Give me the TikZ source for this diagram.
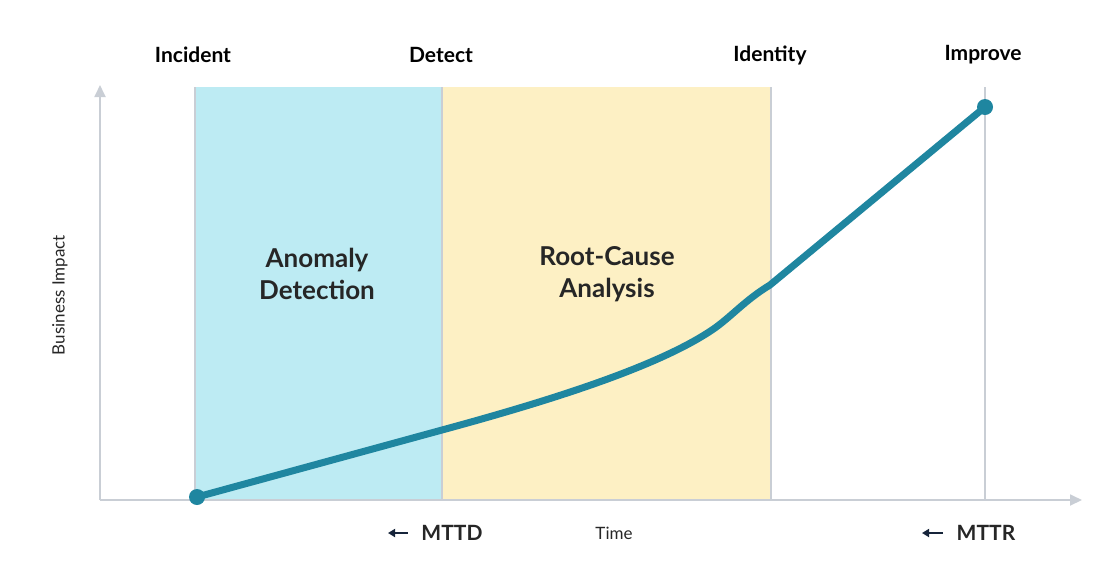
\documentclass[tikz,border=0pt]{standalone}
\usepackage{fontspec}
\setmainfont{Lato}
\usetikzlibrary{arrows.meta}
\definecolor{axisg}{HTML}{C9CED5}
\definecolor{blueb}{HTML}{BDEBF3}
\definecolor{yelb}{HTML}{FDF0C4}
\definecolor{teal}{HTML}{1F86A0}
\definecolor{navy}{HTML}{16243A}
\tikzset{
  axis/.style={axisg, line width=1.8pt, -{Triangle[length=12pt,width=11pt]}},
  vline/.style={axisg, line width=1.4pt},
  toplbl/.style={font=\bfseries\fontsize{21}{24}\selectfont, text=black},
  phase/.style={font=\bfseries\fontsize{26}{32}\selectfont, align=center, text=black!85},
  botlbl/.style={font=\bfseries\fontsize{21}{24}\selectfont, text=black!85},
  dot/.style={circle, fill=teal, inner sep=0pt, minimum size=16pt}
}
\begin{document}
\begin{tikzpicture}[x=1pt,y=-1pt]
\useasboundingbox (0,0) rectangle (1116,566);
\fill[blueb] (195,87) rectangle (442,500);
\fill[yelb] (442,87) rectangle (771,500);
\foreach \x in {195,442,771,985} \draw[vline] (\x,87) -- (\x,500);
\coordinate (o) at (100,500);
\coordinate (ytop) at (100,85);
\coordinate (xend) at (1082,500);
\draw[axis] (o) -- (ytop);
\draw[axis] (o) -- (xend);
\node[toplbl] (inc) at (193,55) {Incident};
\node[toplbl] (det) at (441,55) {Detect};
\node[toplbl] (ide) at (770,55) {Identity};
\node[toplbl] (imp) at (983,55) {Improve};
\node[phase] (ad) at (317,274) {Anomaly\\Detection};
\node[phase] (rca) at (607,274) {Root-Cause\\Analysis};
\node[rotate=90, font=\fontsize{17}{20}\selectfont, text=black!85] (bi) at (60,295) {Business Impact};
\node[font=\fontsize{17}{20}\selectfont, text=black!85] (time) at (614,533) {Time};
\node[botlbl] (mttd) at (452,533) {MTTD};
\node[botlbl] (mttr) at (986,533) {MTTR};
\coordinate (a1) at (388,533);
\coordinate (a2) at (922,533);
\draw[navy, line width=2pt, -{Triangle[length=7pt,width=8pt]}] (mttd.west)++(-10,0) -- (a1);
\draw[navy, line width=2pt, -{Triangle[length=7pt,width=8pt]}] (mttr.west)++(-10,0) -- (a2);
\node[dot] (s) at (197,497) {};
\node[dot] (e) at (985,107) {};
\draw[teal, line width=7pt, line cap=round]
  (s.center) -- (442,430) .. controls (560,398) and (660,365) .. (712,330)
  .. controls (730,318) and (745,300) .. (770,285) -- (e.center);
\end{tikzpicture}
\end{document}
